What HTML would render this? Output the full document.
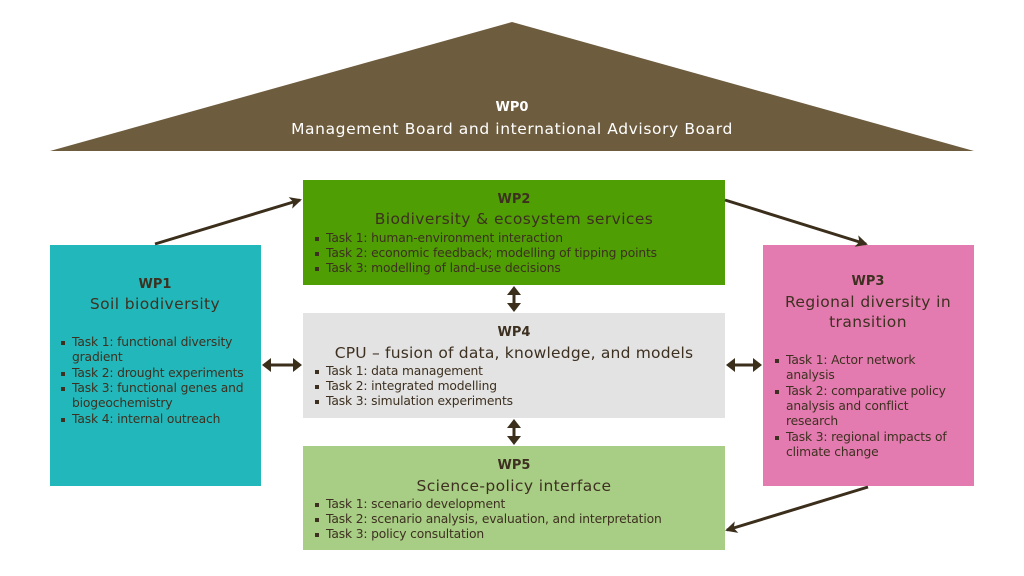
<!DOCTYPE html>
<html><head><meta charset="utf-8"><style>
body{margin:0;width:1024px;height:576px;background:#fff;position:relative;overflow:hidden;font-family:"DejaVu Sans","Liberation Sans",sans-serif;color:#3d3020}
.b{position:absolute}
.t{position:absolute;white-space:nowrap;line-height:15px}
.c{text-align:center;transform:translateX(-50%)}
.h{font-weight:bold;font-size:13px}
.s{font-size:15.5px;line-height:20px}
.k,.n{font-size:12.3px;letter-spacing:-0.15px}
.k::before{content:"";position:absolute;left:-11px;top:6px;width:4px;height:4px;background:#3d3020}
</style></head><body>
<svg class="b" style="left:0;top:0" width="1024" height="576">
<defs><marker id="a2" markerWidth="12" markerHeight="12" refX="10" refY="6" orient="auto" markerUnits="userSpaceOnUse"><path d="M0,0 L12,6 L0,12 L3,6 Z" fill="#3b2f1c"/></marker></defs>
<polygon points="50,151 512,22 974,151" fill="#6e5c3e"/>
<rect x="303" y="180" width="422" height="105" fill="#4f9e04"/>
<rect x="303" y="313" width="422" height="105" fill="#e3e3e3"/>
<rect x="303" y="446" width="422" height="104" fill="#a8cd85"/>
<rect x="50" y="245" width="211" height="241" fill="#22b8bb"/>
<rect x="763" y="245" width="211" height="241" fill="#e47bb0"/>
<g stroke="#3b2f1c" stroke-width="3" fill="none">
<line x1="155" y1="244" x2="300" y2="200" marker-end="url(#a2)"/>
<line x1="725" y1="200" x2="866" y2="244" marker-end="url(#a2)"/>
<line x1="868" y1="487" x2="727" y2="530" marker-end="url(#a2)"/>
<line x1="268" y1="365" x2="296" y2="365"/>
<line x1="732" y1="365" x2="756" y2="365"/>
<line x1="514" y1="292" x2="514" y2="306"/>
<line x1="514" y1="425" x2="514" y2="439"/>
</g>
<g fill="#3b2f1c">
<path d="M262,365 L271,358 L271,372 Z"/><path d="M302,365 L293,358 L293,372 Z"/>
<path d="M726,365 L735,358 L735,372 Z"/><path d="M762,365 L753,358 L753,372 Z"/>
<path d="M514,286 L507,295 L521,295 Z"/><path d="M514,312 L507,303 L521,303 Z"/>
<path d="M514,419 L507,428 L521,428 Z"/><path d="M514,445 L507,436 L521,436 Z"/>
</g>
</svg>
<div class="t c h" style="left:512px;top:100px;color:#fff">WP0</div>
<div class="t c s" style="left:512px;top:119px;color:#fff;letter-spacing:0.6px">Management Board and international Advisory Board</div>

<div class="t c h" style="left:514px;top:192px">WP2</div>
<div class="t c s" style="left:514px;top:209px;letter-spacing:0.4px">Biodiversity &amp; ecosystem services</div>
<div class="t k" style="left:326px;top:231px">Task 1: human-environment interaction</div>
<div class="t k" style="left:326px;top:246px">Task 2: economic feedback; modelling of tipping points</div>
<div class="t k" style="left:326px;top:261px">Task 3: modelling of land-use decisions</div>

<div class="t c h" style="left:514px;top:325px">WP4</div>
<div class="t c s" style="left:514px;top:343px;letter-spacing:0.2px">CPU – fusion of data, knowledge, and models</div>
<div class="t k" style="left:326px;top:364px">Task 1: data management</div>
<div class="t k" style="left:326px;top:379px">Task 2: integrated modelling</div>
<div class="t k" style="left:326px;top:394px">Task 3: simulation experiments</div>

<div class="t c h" style="left:514px;top:458px">WP5</div>
<div class="t c s" style="left:514px;top:476px;letter-spacing:0.4px">Science-policy interface</div>
<div class="t k" style="left:326px;top:497px">Task 1: scenario development</div>
<div class="t k" style="left:326px;top:512px">Task 2: scenario analysis, evaluation, and interpretation</div>
<div class="t k" style="left:326px;top:527px">Task 3: policy consultation</div>

<div class="t c h" style="left:155px;top:277px">WP1</div>
<div class="t c s" style="left:155px;top:294px;letter-spacing:0.4px">Soil biodiversity</div>
<div class="t k" style="left:72px;top:335px">Task 1: functional diversity</div>
<div class="t n" style="left:72px;top:350px">gradient</div>
<div class="t k" style="left:72px;top:366px">Task 2: drought experiments</div>
<div class="t k" style="left:72px;top:381px">Task 3: functional genes and</div>
<div class="t n" style="left:72px;top:396px">biogeochemistry</div>
<div class="t k" style="left:72px;top:412px">Task 4: internal outreach</div>

<div class="t c h" style="left:868px;top:274px">WP3</div>
<div class="t c s" style="left:868px;top:292px;letter-spacing:0.4px">Regional diversity in</div>
<div class="t c s" style="left:868px;top:312px;letter-spacing:0.4px">transition</div>
<div class="t k" style="left:786px;top:353px">Task 1: Actor network</div>
<div class="t n" style="left:786px;top:368px">analysis</div>
<div class="t k" style="left:786px;top:384px">Task 2: comparative policy</div>
<div class="t n" style="left:786px;top:399px">analysis and conflict</div>
<div class="t n" style="left:786px;top:414px">research</div>
<div class="t k" style="left:786px;top:430px">Task 3: regional impacts of</div>
<div class="t n" style="left:786px;top:445px">climate change</div>
</body></html>
